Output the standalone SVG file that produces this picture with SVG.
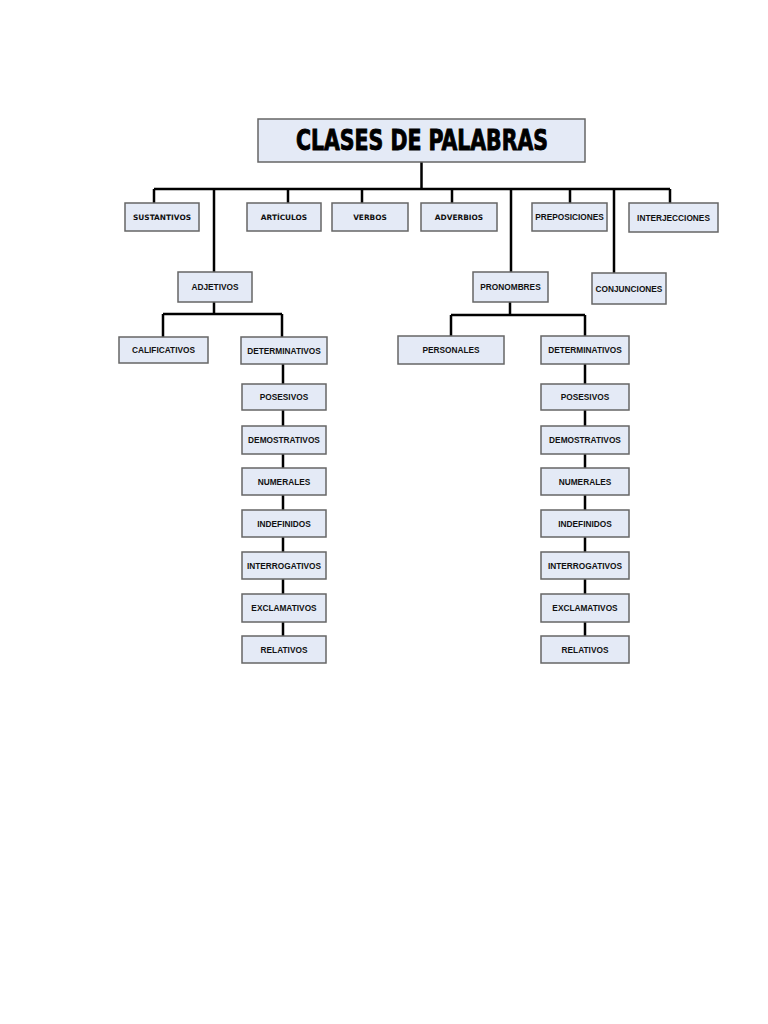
<svg xmlns="http://www.w3.org/2000/svg" width="768" height="1024" viewBox="0 0 768 1024">
<style>
.box{fill:#e4eaf6;stroke:#666;stroke-width:1.5}
.lbl{font-family:"Liberation Sans",Arial,sans-serif;font-weight:bold;font-size:8.3px;fill:#111;text-anchor:middle;dominant-baseline:central}
.wide{font-family:"DejaVu Sans",Verdana,sans-serif;font-size:7.4px}
.title{font-family:"DejaVu Sans Condensed","DejaVu Sans",sans-serif;font-stretch:condensed;font-weight:900;font-size:29px;fill:#000;stroke:#000;stroke-width:0.9;text-anchor:middle}
.con{fill:none;stroke:#000;stroke-width:2.5}
</style>
<rect width="768" height="1024" fill="#fff"/>
<g id="connectors" class="con">
<path d="M421.5 162V189M154 189H670M154 189V203M214 189V272M288 189V203M362 189V203M452 189V203M511 189V272M570 189V203M614 189V273M670 189V203"/>
<path d="M214 302V314M163 314H282M163 314V337M282 314V337"/>
<path d="M510 302V315M451 315H585M451 315V336M585 315V336"/>
<path d="M283 364V636M585 364V636"/>
</g>
<g id="title"><rect class="box" x="258" y="119" width="327" height="43"/><text class="title" x="422" y="150" textLength="252" lengthAdjust="spacingAndGlyphs">CLASES DE PALABRAS</text></g>
<g id="sustantivos"><rect class="box" x="125" y="203" width="74" height="28"/><text class="lbl wide" x="162" y="217">SUSTANTIVOS</text></g>
<g id="articulos"><rect class="box" x="247" y="203" width="74" height="28"/><text class="lbl wide" x="284" y="217">ARTÍCULOS</text></g>
<g id="verbos"><rect class="box" x="332" y="203" width="76" height="28"/><text class="lbl wide" x="370" y="217">VERBOS</text></g>
<g id="adverbios"><rect class="box" x="421" y="203" width="76" height="28"/><text class="lbl wide" x="459" y="217">ADVERBIOS</text></g>
<g id="preposiciones"><rect class="box" x="532" y="203" width="75" height="28"/><text class="lbl" x="569.5" y="217">PREPOSICIONES</text></g>
<g id="interjecciones"><rect class="box" x="629" y="203" width="89" height="29"/><text class="lbl" x="673.5" y="217.5">INTERJECCIONES</text></g>
<g id="adjetivos"><rect class="box" x="178" y="272" width="74" height="30"/><text class="lbl" x="215" y="287">ADJETIVOS</text></g>
<g id="pronombres"><rect class="box" x="473" y="272" width="75" height="30"/><text class="lbl" x="510.5" y="287">PRONOMBRES</text></g>
<g id="conjunciones"><rect class="box" x="592" y="273" width="74" height="31"/><text class="lbl" x="629" y="288.5">CONJUNCIONES</text></g>
<g id="calificativos"><rect class="box" x="119" y="337" width="89" height="26"/><text class="lbl" x="163.5" y="350">CALIFICATIVOS</text></g>
<g id="determinativos-adj"><rect class="box" x="241" y="337" width="86" height="27"/><text class="lbl" x="284" y="350.5">DETERMINATIVOS</text></g>
<g id="personales"><rect class="box" x="398" y="336" width="106" height="28"/><text class="lbl" x="451" y="350">PERSONALES</text></g>
<g id="determinativos-pron"><rect class="box" x="541" y="336" width="88" height="28"/><text class="lbl" x="585" y="350">DETERMINATIVOS</text></g>
<g id="posesivos-adj"><rect class="box" x="242" y="384" width="84" height="26"/><text class="lbl" x="284" y="397">POSESIVOS</text></g>
<g id="demostrativos-adj"><rect class="box" x="242" y="426" width="84" height="28"/><text class="lbl" x="284" y="440">DEMOSTRATIVOS</text></g>
<g id="numerales-adj"><rect class="box" x="242" y="468" width="84" height="27"/><text class="lbl" x="284" y="481.5">NUMERALES</text></g>
<g id="indefinidos-adj"><rect class="box" x="242" y="510" width="84" height="27"/><text class="lbl" x="284" y="523.5">INDEFINIDOS</text></g>
<g id="interrogativos-adj"><rect class="box" x="242" y="552" width="84" height="27"/><text class="lbl" x="284" y="565.5">INTERROGATIVOS</text></g>
<g id="exclamativos-adj"><rect class="box" x="242" y="594" width="84" height="28"/><text class="lbl" x="284" y="608">EXCLAMATIVOS</text></g>
<g id="relativos-adj"><rect class="box" x="242" y="636" width="84" height="27"/><text class="lbl" x="284" y="649.5">RELATIVOS</text></g>
<g id="posesivos-pron"><rect class="box" x="541" y="384" width="88" height="26"/><text class="lbl" x="585" y="397">POSESIVOS</text></g>
<g id="demostrativos-pron"><rect class="box" x="541" y="426" width="88" height="28"/><text class="lbl" x="585" y="440">DEMOSTRATIVOS</text></g>
<g id="numerales-pron"><rect class="box" x="541" y="468" width="88" height="27"/><text class="lbl" x="585" y="481.5">NUMERALES</text></g>
<g id="indefinidos-pron"><rect class="box" x="541" y="510" width="88" height="27"/><text class="lbl" x="585" y="523.5">INDEFINIDOS</text></g>
<g id="interrogativos-pron"><rect class="box" x="541" y="552" width="88" height="27"/><text class="lbl" x="585" y="565.5">INTERROGATIVOS</text></g>
<g id="exclamativos-pron"><rect class="box" x="541" y="594" width="88" height="28"/><text class="lbl" x="585" y="608">EXCLAMATIVOS</text></g>
<g id="relativos-pron"><rect class="box" x="541" y="636" width="88" height="27"/><text class="lbl" x="585" y="649.5">RELATIVOS</text></g>
</svg>
